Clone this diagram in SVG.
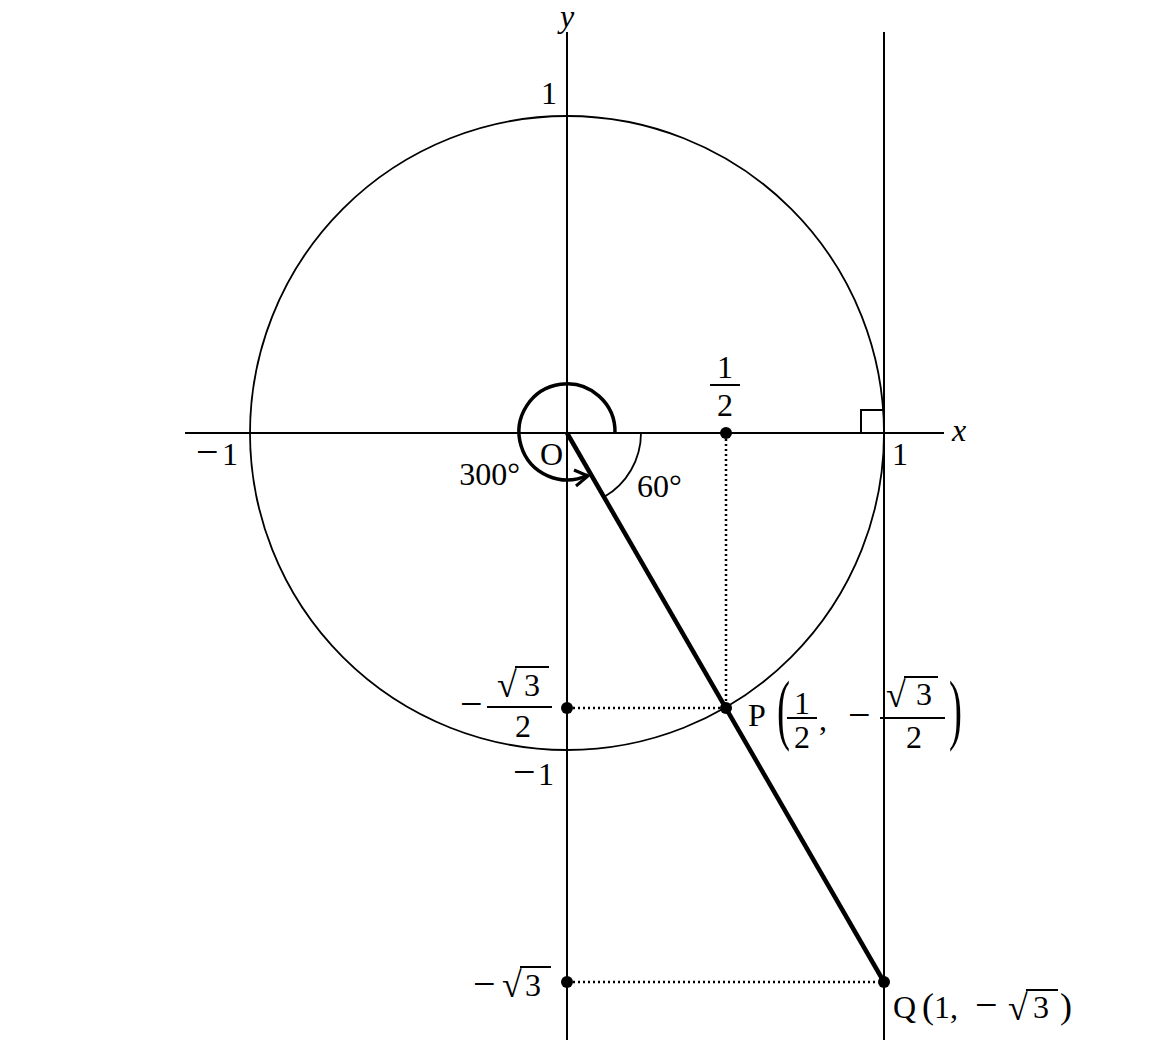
<svg xmlns="http://www.w3.org/2000/svg" width="1162" height="1047" viewBox="0 0 1162 1047">
<style>
  .ln{stroke:#000;fill:none;stroke-width:2}
  .dot{fill:#000}
  .dt{stroke:#000;fill:none;stroke-width:2.5;stroke-dasharray:2 3}
  text{font-family:"Liberation Serif","DejaVu Serif",serif;font-size:32px;fill:#000}
  .it{font-style:italic}
  .rad{font-size:36px}
  .mn{font-size:40px}
  .bp{font-size:78px}
</style>
<rect width="1162" height="1047" fill="#fff"/>
<g id="axes">
  <line class="ln" x1="185" y1="433" x2="944" y2="433"/>
  <line class="ln" x1="567" y1="32" x2="567" y2="1040"/>
  <line class="ln" x1="884" y1="32" x2="884" y2="1040"/>
  <polyline class="ln" points="861,433 861,410 884,410"/>
</g>
<g id="circle">
  <circle class="ln" cx="567" cy="433" r="317" style="stroke-width:1.8"/>
</g>
<g id="connectors">
  <line x1="567" y1="433" x2="884" y2="982" style="stroke:#000;stroke-width:4.5"/>
  <line class="dt" x1="726" y1="439" x2="726" y2="702"/>
  <line class="dt" x1="573" y1="708" x2="720" y2="708"/>
  <line class="dt" x1="573" y1="982" x2="878" y2="982"/>
  <path class="ln" d="M615,433 A48,48 0 1 0 588,475" style="stroke-width:3.5"/>
  <polyline class="ln" style="stroke-width:3" points="574,470 588,476 576,486"/>
  <path class="ln" d="M641,433 A74,74 0 0 1 604,497" style="stroke-width:1.8"/>
</g>
<g id="points">
  <circle class="dot" cx="726" cy="433" r="6"/>
  <circle class="dot" cx="567" cy="708" r="6"/>
  <circle class="dot" cx="726" cy="708" r="6"/>
  <circle class="dot" cx="567" cy="982" r="6"/>
  <circle class="dot" cx="884" cy="982" r="6"/>
</g>
<g id="labels">
  <text class="it" x="567" y="27" text-anchor="middle">y</text>
  <text class="it" x="952" y="441">x</text>
  <text x="557" y="104" text-anchor="end">1</text>
  <text class="mn" x="196" y="465">−</text>
  <text x="222" y="465">1</text>
  <text x="892" y="465">1</text>
  <text x="540" y="465">O</text>
  <text x="520" y="485" text-anchor="end">300°</text>
  <text x="637" y="497">60°</text>
  <text class="mn" x="513" y="785">−</text>
  <text x="538" y="785">1</text>
  <!-- 1/2 top -->
  <text x="725" y="378" text-anchor="middle">1</text>
  <line class="ln" x1="710" y1="385" x2="740" y2="385"/>
  <text x="725" y="416" text-anchor="middle">2</text>
  <!-- -sqrt3/2 left -->
  <text class="mn" x="460" y="717">−</text>
  <line class="ln" x1="487" y1="707" x2="552" y2="707"/>
  <text class="rad" x="497" y="697">√</text>
  <line class="ln" x1="515" y1="667" x2="549" y2="667"/>
  <text x="532" y="696" text-anchor="middle">3</text>
  <text x="523" y="737" text-anchor="middle">2</text>
  <!-- -sqrt3 left -->
  <text class="mn" x="473" y="997">−</text>
  <text class="rad" x="502" y="997">√</text>
  <line class="ln" x1="520" y1="967" x2="551" y2="967"/>
  <text x="533" y="996" text-anchor="middle">3</text>
  <!-- P -->
  <text x="748" y="726">P</text>
  <text class="bp" transform="translate(777,735) scale(0.5,1)">(</text>
  <text x="802" y="714" text-anchor="middle">1</text>
  <line class="ln" x1="787" y1="718" x2="817" y2="718"/>
  <text x="802" y="748" text-anchor="middle">2</text>
  <text x="819" y="730">,</text>
  <text class="mn" x="848" y="728">−</text>
  <line class="ln" x1="880" y1="718" x2="945" y2="718"/>
  <text class="rad" x="886" y="707">√</text>
  <line class="ln" x1="904" y1="677" x2="938" y2="677"/>
  <text x="924" y="705" text-anchor="middle">3</text>
  <text x="914" y="748" text-anchor="middle">2</text>
  <text class="bp" transform="translate(949,735) scale(0.5,1)">)</text>
  <!-- Q -->
  <text x="893" y="1018">Q</text>
  <text class="rad" x="922" y="1018">(</text>
  <text x="934" y="1018">1,</text>
  <text class="mn" x="975" y="1018">−</text>
  <text class="rad" x="1008" y="1020">√</text>
  <line class="ln" x1="1026" y1="990" x2="1058" y2="990"/>
  <text x="1041" y="1018" text-anchor="middle">3</text>
  <text class="rad" x="1060" y="1018">)</text>
</g>
</svg>
